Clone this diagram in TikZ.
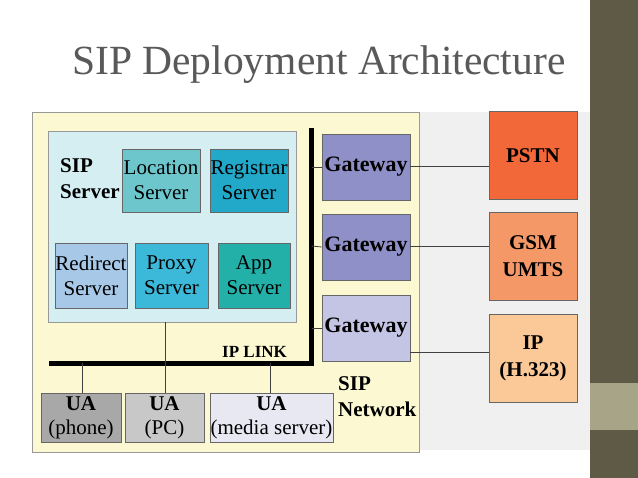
\documentclass[tikz,border=0pt]{standalone}
\usepackage{fontspec}
\setmainfont{Liberation Serif}
\begin{document}
\begin{tikzpicture}[x=1pt,y=-1pt,
 bx/.style={draw=black!60,line width=0.6pt,align=center,inner sep=0pt,font=\rmfamily\fontsize{21}{25}\selectfont},
 gw/.style={bx,font=\rmfamily\bfseries\fontsize{22}{24}\selectfont,minimum width=88pt,minimum height=66pt},
 rt/.style={bx,font=\rmfamily\bfseries\fontsize{21}{27}\selectfont,minimum width=88pt,minimum height=88pt},
 ua/.style={bx,minimum height=49pt,font=\rmfamily\fontsize{21}{24}\selectfont},
 ln/.style={draw=black!75,line width=0.8pt},
 bar/.style={line width=4.5pt}]
\useasboundingbox (0,0) rectangle (638,478);
\fill[white] (0,0) rectangle (638,478);
\fill[black!6] (419,112) rectangle (590,450);
\fill[fill={rgb,255:red,95;green,90;blue,70}] (590,0) rectangle (638,478);
\fill[fill={rgb,255:red,168;green,164;blue,136}] (590,383) rectangle (638,430);
\node[anchor=base west,font=\rmfamily\fontsize{41.5}{44}\selectfont,text=black!65,inner sep=0pt] (title) at (72,75) {SIP Deployment Architecture};
\fill[fill={rgb,255:red,251;green,248;blue,210},draw=black!40] (32,112) rectangle (419,452);
\node[draw=black!40,fill={rgb,255:red,212;green,238;blue,242},minimum width=248pt,minimum height=191pt,inner sep=0pt] (ss) at (172,226.5) {};
\node[anchor=north west,align=left,font=\rmfamily\bfseries\fontsize{21}{26}\selectfont,inner sep=0pt] (sst) at (60,158) {SIP\\Server};
\node[bx,fill={rgb,255:red,108;green,198;blue,204},minimum width=78pt,minimum height=63pt] (loc) at (161,180.5) {Location\\Server};
\node[bx,fill={rgb,255:red,34;green,168;blue,200},minimum width=78pt,minimum height=63pt] (reg) at (249,180.5) {Registrar\\Server};
\node[bx,fill={rgb,255:red,168;green,200;blue,232},minimum width=72pt,minimum height=65pt] (red) at (91,275.5) {Redirect\\Server};
\node[bx,fill={rgb,255:red,60;green,184;blue,216},minimum width=73pt,minimum height=65pt] (prx) at (171.5,275.5) {Proxy\\Server};
\node[bx,fill={rgb,255:red,34;green,176;blue,168},minimum width=72pt,minimum height=65pt] (app) at (254,275.5) {App\\Server};
\coordinate (vt) at (311.5,128);
\coordinate (corner) at (311.5,363.5);
\coordinate (hl) at (49,363.5);
\draw[bar] (vt) -- (corner) -- (hl);
\node[gw,fill={rgb,255:red,144;green,144;blue,200}] (g1) at (366,167) {Gateway};
\node[gw,fill={rgb,255:red,144;green,144;blue,200}] (g2) at (366,247) {Gateway};
\node[gw,fill={rgb,255:red,196;green,196;blue,228}] (g3) at (366,328) {Gateway};
\node[rt,fill={rgb,255:red,242;green,104;blue,56}] (pstn) at (533,155.5) {PSTN};
\node[rt,fill={rgb,255:red,245;green,152;blue,104}] (gsm) at (533,256) {GSM\\UMTS};
\node[rt,fill={rgb,255:red,251;green,200;blue,152}] (ip) at (533,358.5) {IP\\(H.323)};
\draw[ln] (311.5,167) -- (g1.west);
\draw[ln] (311.5,246) -- (g2.west);
\draw[ln] (311.5,328) -- (g3.west);
\draw[ln] (g1.east |- 0,166) -- (pstn.west |- 0,166);
\draw[ln] (g2.east |- 0,246) -- (gsm.west |- 0,246);
\draw[ln] (g3.east |- 0,352) -- (ip.west |- 0,352);
\node[ua,fill={rgb,255:red,168;green,168;blue,168},minimum width=80pt] (u1) at (81,417.5) {\textbf{UA}\\(phone)};
\node[ua,fill={rgb,255:red,200;green,200;blue,200},minimum width=79pt] (u2) at (164.5,417.5) {\textbf{UA}\\(PC)};
\node[ua,fill={rgb,255:red,232;green,232;blue,242},minimum width=123pt] (u3) at (271.5,417.5) {\textbf{UA}\\(media server)};
\draw[ln] (165,322) -- (165,363.5);
\draw[ln] (82,363.5) -- (82,393);
\draw[ln] (165,363.5) -- (165,393);
\draw[ln] (270,363.5) -- (270,393);
\node[anchor=base west,font=\rmfamily\bfseries\fontsize{17}{18}\selectfont,inner sep=0pt] (iplink) at (222,358) {IP LINK};
\node[anchor=north west,align=left,font=\rmfamily\bfseries\fontsize{21}{26}\selectfont,inner sep=0pt] (sipn) at (338,376) {SIP\\Network};
\end{tikzpicture}
\end{document}
